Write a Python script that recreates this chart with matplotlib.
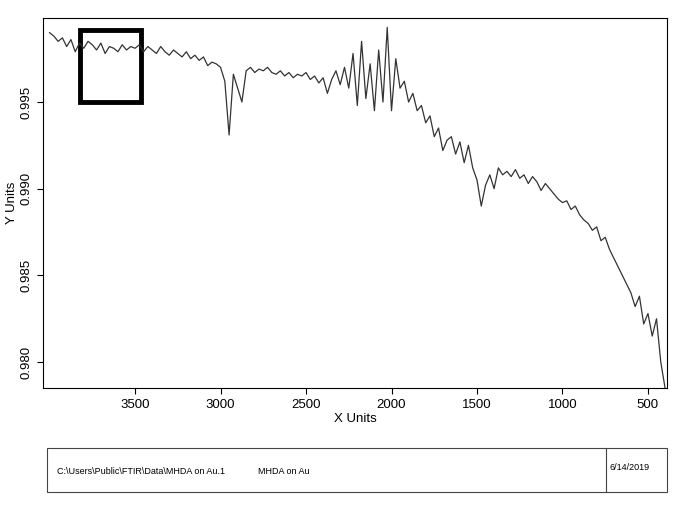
import matplotlib
matplotlib.use("Agg")
import matplotlib.pyplot as plt
import numpy as np
from matplotlib.patches import Rectangle

plt.rcParams['font.family'] = ['Liberation Sans', 'DejaVu Sans']

wavenumber_start, wavenumber_stop, wavenumber_step = 4000, 399, -25
y_values = [
0.9990,0.9988,0.9985,0.9987,0.9982,0.9986,0.9979,0.9984,0.9981,0.9985,
0.9983,0.9980,0.9984,0.9978,0.9982,0.9981,0.9979,0.9983,0.9980,0.9982,
0.9981,0.9983,0.9979,0.9982,0.9980,0.9978,0.9982,0.9979,0.9977,0.9980,
0.9978,0.9976,0.9979,0.9975,0.9977,0.9974,0.9976,0.9971,0.9973,0.9972,
0.9970,0.9962,0.9931,0.9966,0.9958,0.9950,0.9968,0.9970,0.9967,0.9969,
0.9968,0.9970,0.9967,0.9966,0.9968,0.9965,0.9967,0.9964,0.9966,0.9965,
0.9967,0.9963,0.9965,0.9961,0.9964,0.9955,0.9963,0.9968,0.9960,0.9970,
0.9958,0.9978,0.9948,0.9985,0.9952,0.9972,0.9945,0.9980,0.9950,0.9993,
0.9945,0.9975,0.9958,0.9962,0.9950,0.9955,0.9945,0.9948,0.9938,0.9942,
0.9930,0.9935,0.9922,0.9928,0.9930,0.9920,0.9927,0.9915,0.9925,0.9912,
0.9905,0.9890,0.9902,0.9908,0.9900,0.9912,0.9908,0.9910,0.9907,0.9911,
0.9906,0.9908,0.9903,0.9907,0.9904,0.9899,0.9903,0.9900,0.9897,0.9894,
0.9892,0.9893,0.9888,0.9890,0.9885,0.9882,0.9880,0.9876,0.9878,0.9870,
0.9872,0.9865,0.9860,0.9855,0.9850,0.9845,0.9840,0.9832,0.9838,0.9822,
0.9828,0.9815,0.9825,0.9800,0.9785]
x_ticks = [3500, 3000, 2500, 2000, 1500, 1000, 500]
y_ticks = [0.980, 0.985, 0.990, 0.995]

x = np.arange(wavenumber_start, wavenumber_stop, wavenumber_step)

fig = plt.figure(figsize=(6.73, 5.12), dpi=100)
ax = fig.add_axes([0.064, 0.242, 0.927, 0.723])
ax.plot(x, y_values, color="#333333", lw=0.9)
ax.set_xlim(4038, 389)
ax.set_ylim(0.9785, 0.99985)
ax.set_xticks(x_ticks)
ax.set_yticks(y_ticks)
ax.set_yticklabels([f"{v:.3f}" for v in y_ticks], rotation=90, va="center")
ax.tick_params(labelsize=9.5, length=4)
ax.set_xlabel("X Units", fontsize=9.5, labelpad=2)
ax.set_ylabel("Y Units", fontsize=9.5, labelpad=2)
ax.add_patch(Rectangle((3822, 0.995), 3465 - 3822, 0.99915 - 0.995,
                       fill=False, lw=3.5, ec="black"))

fig.patches.append(Rectangle((47/673, 1-492/512), 620/673, 44/512, fill=False,
                             lw=0.8, ec="#444444", transform=fig.transFigure))
fig.lines.append(plt.Line2D([606/673, 606/673], [1-492/512, 1-448/512],
                            lw=0.8, color="#444444", transform=fig.transFigure))
fig.text(57/673, 1-472/512, "C:\\Users\\Public\\FTIR\\Data\\MHDA on Au.1", fontsize=6.5, va="center")
fig.text(258/673, 1-472/512, "MHDA on Au", fontsize=6.5, va="center")
fig.text(610/673, 1-468/512, "6/14/2019", fontsize=6.5, va="center")
fig.savefig("out.png", dpi=100)
